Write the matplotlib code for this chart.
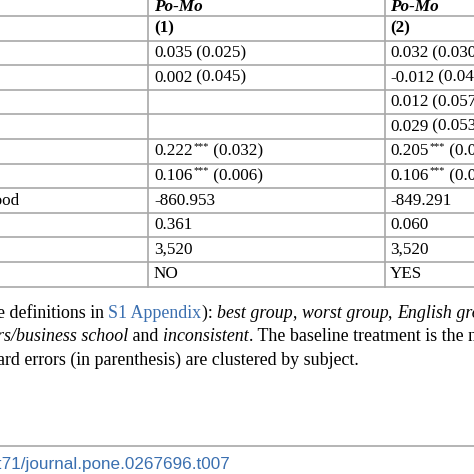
import matplotlib.pyplot as plt
from matplotlib.lines import Line2D

plt.rcParams['font.family'] = ['Liberation Serif', 'DejaVu Serif']

headers = ["Po-Mo", "Po-Mo"]
col_nums = ["(1)", "(2)"]
# each cell: (estimate, stars, standard error)
col1 = [("0.035", "", "(0.025)"), ("0.002", "", "(0.045)"), ("", "", ""), ("", "", ""),
        ("0.222", "***", "(0.032)"), ("0.106", "***", "(0.006)"),
        ("-860.953", "", ""), ("0.361", "", ""), ("3,520", "", ""), ("NO", "", "")]
col2 = [("0.032", "", "(0.0303)"), ("-0.012", "", "(0.046)"), ("0.012", "", "(0.057)"),
        ("0.029", "", "(0.053)"), ("0.205", "***", "(0.062)"), ("0.106", "***", "(0.006)"),
        ("-849.291", "", ""), ("0.060", "", ""), ("3,520", "", ""), ("YES", "", "")]
row_labels = ["", "", "", "", "", "", "Log likelihood", "", "", ""]

footnote = [
    [("e definitions in ", "normal", "black"), ("S1 Appendix", "normal", "#3a6fb0"),
     ("): ", "normal", "black"), ("best group", "italic", "black"), (", ", "normal", "black"),
     ("worst group", "italic", "black"), (", ", "normal", "black"),
     ("English group", "italic", "black"), (", ", "normal", "black"), ("big town", "italic", "black")],
    [("rs/business school", "italic", "black"), (" and ", "normal", "black"),
     ("inconsistent", "italic", "black"),
     (". The baseline treatment is the money lottery", "normal", "black")],
    [("ard errors (in parenthesis) are clustered by subject.", "normal", "black")],
]
doi = ":71/journal.pone.0267696.t007"

W = H = 474
fig = plt.figure(figsize=(4.74, 4.74), dpi=100)
fs = 12.3
grey = "#a8a8a8"

def px(x, y):
    return x / W, 1 - y / H

def hline(y, x0=0, x1=W):
    fig.add_artist(Line2D([x0 / W, x1 / W], [1 - y / H] * 2, color=grey, lw=1.2))

def vline(x, y0, y1):
    fig.add_artist(Line2D([x / W] * 2, [1 - y0 / H, 1 - y1 / H], color=grey, lw=1.2))

xs = [154, 390]
row_h = 24.6
ys = [16 + row_h * i for i in range(12)]
for y in ys:
    hline(y)
for x in [148, 385]:
    vline(x, 0, ys[-1])

fig.canvas.draw()
r = fig.canvas.get_renderer()

for x, h, n in zip(xs, headers, col_nums):
    fig.text(*px(x, 7), h, fontsize=fs, fontweight='bold', style='italic', va='center')
    fig.text(*px(x, 16 + row_h / 2), n, fontsize=fs, fontweight='bold', va='center')

def cell(x, yc, parts):
    est, stars, se = parts
    t = fig.text(*px(x, yc), est, fontsize=fs, va='center')
    x += t.get_window_extent(r).width
    if stars:
        t = fig.text(*px(x + 1, yc - 5), stars, fontsize=fs * 0.6, va='center')
        x += t.get_window_extent(r).width + 1
    if se:
        fig.text(*px(x, yc), " " + se, fontsize=fs, va='center')

for i, (lab, a, b) in enumerate(zip(row_labels, col1, col2)):
    yc = ys[i + 1] + row_h / 2
    cell(xs[0], yc, a)
    cell(xs[1], yc, b)
    if lab:
        fig.text(*px(19, yc), lab, fontsize=fs, va='center', ha='right')

for j, line in enumerate(footnote):
    x = -3
    y = 313 + 23.5 * j
    for txt, st, c in line:
        t = fig.text(*px(x, y), txt, fontsize=fs + 0.6, style=st, color=c, va='center')
        x += t.get_window_extent(r).width

hline(446)
fig.text(*px(-3, 465), doi, fontsize=fs, color="#3a6fb0", va='center',
         family=['Liberation Sans', 'DejaVu Sans'])

fig.savefig("out.png", dpi=100)
